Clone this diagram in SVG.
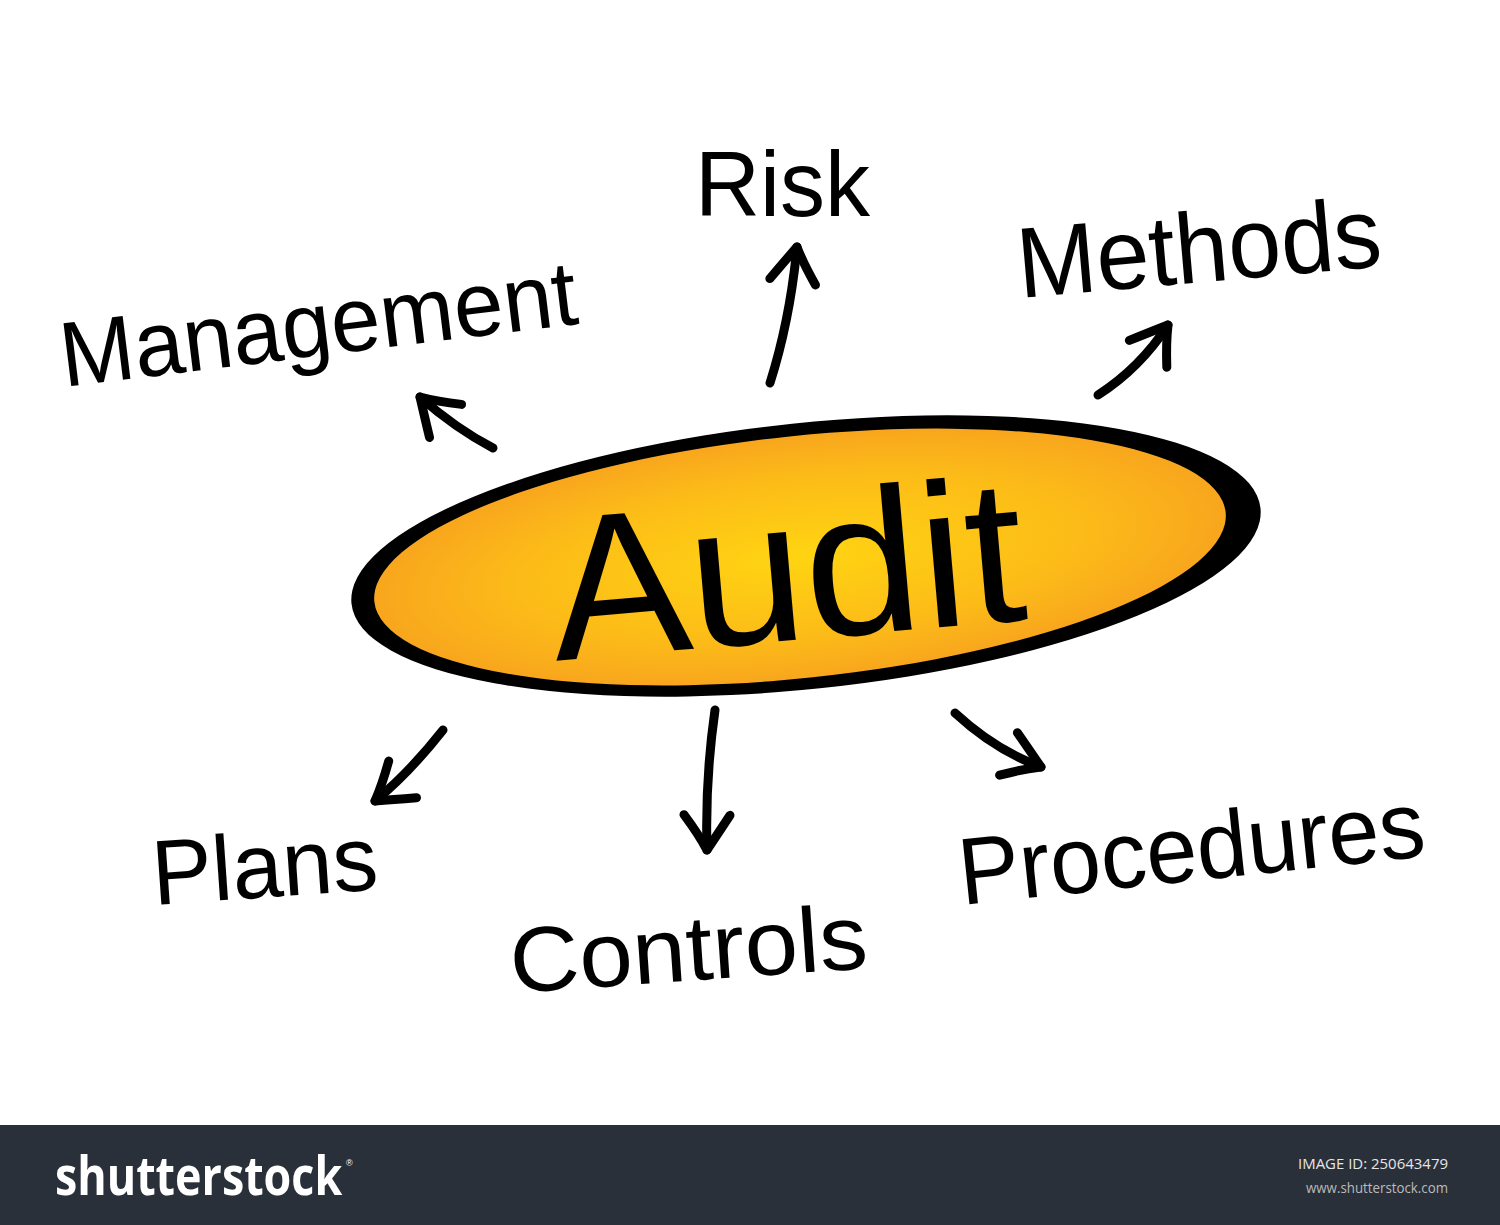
<svg xmlns="http://www.w3.org/2000/svg" width="1500" height="1225" viewBox="0 0 1500 1225">
  <defs>
    <radialGradient id="og" cx="0.5" cy="0.5" r="0.55">
      <stop offset="0" stop-color="#FFD412"/>
      <stop offset="0.6" stop-color="#FCBB18"/>
      <stop offset="1" stop-color="#F7A01F"/>
    </radialGradient>
    <marker id="ah" markerUnits="userSpaceOnUse" markerWidth="70" markerHeight="70" viewBox="-45 -35 55 70" refX="0" refY="0" orient="auto">
      <path d="M-34,-24 Q-14,-10 0,0 Q-16,8 -36,22" fill="none" stroke="#000" stroke-width="9" stroke-linecap="round" stroke-linejoin="round"/>
    </marker>
    <style>
      .lbl{font-family:"Liberation Sans","DejaVu Sans",sans-serif;fill:#000;}
      .arr{fill:none;stroke:#000;stroke-width:9;stroke-linecap:round;marker-end:url(#ah);}
    </style>
  </defs>
  <rect width="1500" height="1225" fill="#fff"/>

  <g id="audit">
    <ellipse cx="806" cy="556" rx="457" ry="133" transform="rotate(-6 806 556)" fill="#000"/>
    <ellipse cx="800" cy="557" rx="428" ry="121" transform="rotate(-6 800 557)" fill="url(#og)"/>
    <text class="lbl" x="548" y="640" font-size="205" textLength="475" lengthAdjust="spacingAndGlyphs" transform="rotate(-5 790 560)">Audit</text>
  </g>

  <g id="connectors">
    <path class="arr" d="M493,448 Q455,428 420,397"/>
    <path class="arr" d="M770,383 Q790,320 797,247"/>
    <path class="arr" d="M1098,395 Q1140,368 1168,325"/>
    <path class="arr" d="M443,730 Q410,772 375,801"/>
    <path class="arr" d="M715,710 Q705,780 707,850"/>
    <path class="arr" d="M955,713 Q995,750 1041,767"/>
  </g>

  <g id="risk"><text class="lbl" x="695" y="216" font-size="92" textLength="175" lengthAdjust="spacingAndGlyphs">Risk</text></g>
  <g id="methods"><text class="lbl" x="1020" y="298" font-size="100" textLength="365" lengthAdjust="spacingAndGlyphs" transform="rotate(-5 1020 298)">Methods</text></g>
  <g id="management"><text class="lbl" x="64" y="387" font-size="92" textLength="520" lengthAdjust="spacingAndGlyphs" transform="rotate(-7 64 387)">Management</text></g>
  <g id="plans"><text class="lbl" x="154" y="905" font-size="92" textLength="226" lengthAdjust="spacingAndGlyphs" transform="rotate(-4 154 905)">Plans</text></g>
  <g id="controls"><text class="lbl" x="512" y="993" font-size="92" textLength="358" lengthAdjust="spacingAndGlyphs" transform="rotate(-4 512 993)">Controls</text></g>
  <g id="procedures"><text class="lbl" x="962" y="905" font-size="95" textLength="468" lengthAdjust="spacingAndGlyphs" transform="rotate(-6 962 905)">Procedures</text></g>

  <g id="footer">
    <rect x="0" y="1125" width="1500" height="100" fill="#29303A"/>
    <text transform="translate(55 1195) scale(0.83 1)" font-family="'Open Sans','Liberation Sans',sans-serif" font-weight="bold" font-size="54" fill="#fff">shutterstock</text>
    <text x="346" y="1166" font-family="'Liberation Sans',sans-serif" font-size="9" fill="#fff">®</text>
    <text x="1448" y="1169" text-anchor="end" font-family="'Open Sans','Liberation Sans',sans-serif" font-size="15" fill="#E6E6E6" textLength="150" lengthAdjust="spacingAndGlyphs">IMAGE ID: 250643479</text>
    <text x="1448" y="1193" text-anchor="end" font-family="'Open Sans','Liberation Sans',sans-serif" font-size="14" fill="#BBBBBB" textLength="142" lengthAdjust="spacingAndGlyphs">www.shutterstock.com</text>
  </g>
</svg>
